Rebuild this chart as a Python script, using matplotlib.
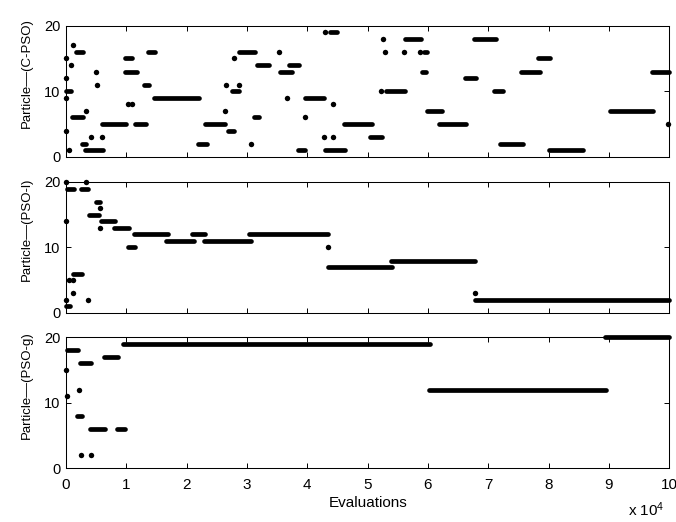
"""Parçacık indeksleri: C-PSO, PSO-l ve PSO-g karşılaştırması."""

import matplotlib
matplotlib.use("Agg")
import matplotlib.pyplot as plt

plt.rcParams["font.family"] = ["Liberation Sans", "DejaVu Sans"]
plt.rcParams["mathtext.default"] = "regular"

# (başlangıç, bitiş, parçacık) - değerlendirme sayısı cinsinden
cpso_segments = [
    (42900, 42900, 19), (43800, 44900, 19),
    (52500, 52500, 18), (56200, 58800, 18), (67700, 71300, 18),
    (1100, 1100, 17),
    (1700, 2900, 16), (13600, 14800, 16), (28700, 31300, 16), (35300, 35300, 16),
    (52900, 52900, 16), (56100, 56100, 16), (58700, 58700, 16), (59400, 59900, 16),
    (0, 0, 15), (9800, 10900, 15), (27900, 27900, 15), (78300, 80200, 15),
    (900, 900, 14), (31700, 33700, 14), (37000, 38600, 14),
    (5000, 5000, 13), (9700, 11800, 13), (35500, 37400, 13), (59000, 59600, 13),
    (75400, 78600, 13), (97100, 100000, 13),
    (0, 0, 12), (66100, 67900, 12),
    (5200, 5200, 11), (13000, 13800, 11), (26600, 26600, 11), (28700, 28700, 11),
    (0, 900, 10), (27600, 28700, 10), (52200, 52200, 10), (53100, 56200, 10), (71000, 72400, 10),
    (0, 0, 9), (14600, 22100, 9), (36600, 36600, 9), (39700, 42700, 9),
    (10200, 10200, 8), (11000, 11000, 8), (44200, 44200, 8),
    (3400, 3400, 7), (26300, 26300, 7), (59800, 62300, 7), (90200, 97300, 7),
    (1000, 2900, 6), (31200, 32000, 6), (39700, 39700, 6),
    (6000, 10000, 5), (11500, 13300, 5), (23100, 26400, 5), (46000, 50700, 5),
    (61900, 66300, 5), (99800, 99800, 5),
    (0, 0, 4), (26800, 27900, 4),
    (4100, 4100, 3), (6000, 6000, 3), (42700, 42700, 3), (44200, 44200, 3), (50400, 52300, 3),
    (2600, 3300, 2), (21800, 23400, 2), (30700, 30700, 2), (72000, 75700, 2),
    (500, 500, 1), (3100, 6200, 1), (38400, 39700, 1), (42900, 46300, 1), (80000, 85700, 1),
]

psol_segments = [
    (0, 0, 20), (3400, 3400, 20),
    (200, 1300, 19), (2500, 3600, 19),
    (4900, 5700, 17), (5600, 5600, 16), (3800, 5400, 15),
    (0, 0, 14), (5800, 8200, 14),
    (5700, 5700, 13), (7900, 10500, 13),
    (11200, 16900, 12), (20900, 23100, 12), (30300, 43400, 12),
    (16600, 21200, 11), (22800, 30600, 11),
    (10300, 11400, 10), (43400, 43400, 10),
    (53800, 67800, 8), (43400, 54000, 7),
    (1200, 2700, 6), (500, 500, 5), (1200, 1200, 5),
    (1200, 1200, 3), (67800, 67800, 3),
    (0, 0, 2), (3700, 3700, 2), (67800, 100000, 2),
    (0, 600, 1),
]

psog_segments = [
    (89400, 100000, 20), (9500, 60300, 19), (200, 2000, 18), (6300, 8600, 17),
    (2400, 4200, 16), (0, 0, 15), (2200, 2200, 12), (60100, 89500, 12),
    (100, 100, 11), (1900, 2700, 8), (4000, 6500, 6), (8400, 9700, 6),
    (2500, 2500, 2), (4100, 4100, 2),
]

panels = [("Particle\u2013\u2013(C-PSO)", cpso_segments), ("Particle\u2013\u2013(PSO-l)", psol_segments),
          ("Particle\u2013\u2013(PSO-g)", psog_segments)]
x_ticks = list(range(0, 100001, 10000))
x_labels = [str(t // 10000) for t in x_ticks]
y_ticks = [0, 10, 20]

fig = plt.figure(figsize=(6.76, 5.22), dpi=100)
bottoms = [0.6998, 0.4004, 0.1029]
for i, (etiket, segs) in enumerate(panels):
    ax = fig.add_axes([0.0976, bottoms[i], 0.8925, 0.251])
    for s, e, p in segs:
        if s == e:
            ax.plot([s], [p], "o", color="black", ms=3.9, mew=0, clip_on=False)
        else:
            ax.plot([s, e], [p, p], color="black", lw=3.4, solid_capstyle="round", clip_on=False)
    ax.set_xlim(0, 100000); ax.set_ylim(0, 20)
    ax.set_xticks(x_ticks); ax.set_yticks(y_ticks)
    ax.set_xticklabels(x_labels if i == 2 else [])
    ax.tick_params(direction="in", length=3.8, width=0.7, top=True, right=True, labelsize=10.5, pad=4)
    ax.tick_params(axis="x", labelsize=11, pad=7)
    for sp in ax.spines.values():
        sp.set_linewidth(0.75)
    ax.set_ylabel(etiket, fontsize=9.5)
    ax.yaxis.set_label_coords(-0.055, 0.635)
    if i == 2:
        ax.set_xlabel("Evaluations", fontsize=11, labelpad=3)

fig.text(0.983, 0.0115, "x 10$^4$", ha="right", va="baseline", fontsize=11)
fig.savefig("out.png", dpi=100)
